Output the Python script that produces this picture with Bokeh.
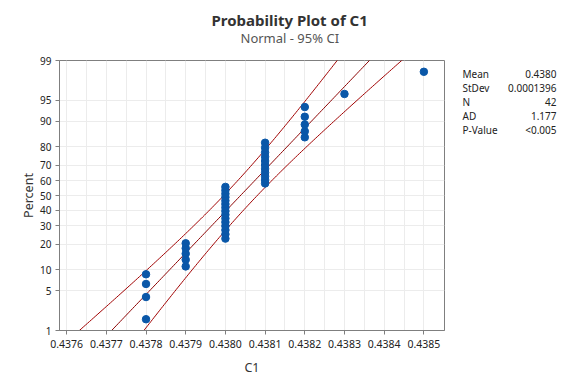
from statistics import NormalDist
import numpy as np
from bokeh.plotting import figure
from bokeh.models import Range1d, FixedTicker, Title, ColumnDataSource
from bokeh.layouts import row
from bokeh.core.properties import value
from bokeh.embed import file_html
from bokeh.resources import INLINE

# ---- data ----
c1_values = [0.4378, 0.4378, 0.4378, 0.4378,
             0.4379, 0.4379, 0.4379, 0.4379, 0.4379,
             0.4380, 0.4380, 0.4380, 0.4380, 0.4380, 0.4380, 0.4380, 0.4380,
             0.4380, 0.4380, 0.4380, 0.4380, 0.4380, 0.4380, 0.4380,
             0.4381, 0.4381, 0.4381, 0.4381, 0.4381, 0.4381, 0.4381, 0.4381,
             0.4381, 0.4381, 0.4381,
             0.4382, 0.4382, 0.4382, 0.4382, 0.4382,
             0.4383,
             0.4385]
percent_values = [1.65, 4.01, 6.37, 8.73, 11.08, 13.44, 15.80, 18.16, 20.52, 22.88,
                  25.24, 27.59, 29.95, 32.31, 34.67, 37.03, 39.39, 41.75, 44.10, 46.46,
                  48.82, 51.18, 53.54, 55.90, 58.25, 60.61, 62.97, 65.33, 67.69, 70.05,
                  72.41, 74.76, 77.12, 79.48, 81.84, 84.20, 86.56, 88.92, 91.27, 93.63,
                  95.99, 98.35]
x_ticks = [0.4376, 0.4377, 0.4378, 0.4379, 0.4380, 0.4381, 0.4382, 0.4383, 0.4384, 0.4385]
x_tick_labels = ["0.4376", "0.4377", "0.4378", "0.4379", "0.4380", "0.4381",
                 "0.4382", "0.4383", "0.4384", "0.4385"]
x_minor = [0.43765, 0.43775, 0.43785, 0.43795, 0.43805, 0.43815, 0.43825, 0.43835, 0.43845]
y_tick_percents = [1, 5, 10, 20, 30, 40, 50, 60, 70, 80, 90, 95, 99]
stat_names = ["Mean", "StDev", "N", "AD", "P-Value"]
stat_values = ["0.4380", "0.0001396", "42", "1.177", "<0.005"]

FONT = "Noto Sans"
nd = NormalDist()
def zq(pct):
    return nd.inv_cdf(pct / 100.0)

# normal fit and 95% confidence band
arr = np.array(c1_values)
mu = arr.mean()
sd = arr.std(ddof=1)
n = len(arr)
zz = np.linspace(-3.2, 3.2, 200)
fit = mu + sd * zz
half = 1.959964 * sd * np.sqrt(1.0 / n + zz ** 2 / (2.0 * n))

W_MAIN, W_STATS, H = 446, 130, 384
LEFT, TOP, BOTTOM = 59, 60, 54
p = figure(width=W_MAIN, height=H, output_backend="svg", toolbar_location=None,
           x_range=Range1d(0.437582, 0.438552), y_range=Range1d(zq(1), zq(99)),
           min_border_left=LEFT, min_border_right=2, min_border_top=TOP, min_border_bottom=BOTTOM)
p.background_fill_color = "white"
p.border_fill_color = "white"
p.outline_line_color = "#7f7f7f"
p.outline_line_width = 1

# titles (stacked outward from the frame: subtitle first, then the main title)
sub = Title(text="Normal - 95% CI", align="left", offset=181,
            text_font=FONT, text_font_size="13px", text_font_style="normal",
            text_color="#555555", standoff=0)
ttl = Title(text="Probability Plot of C1", align="left", offset=152,
            text_font=FONT, text_font_size="15px", text_font_style="bold",
            text_color="#333333", standoff=0)
try:
    sub.standoff = 28
    ttl.standoff = -34
except Exception:
    sub.standoff = 10
    ttl.standoff = 0
p.add_layout(sub, "above")
p.add_layout(ttl, "above")

# axes
p.xaxis.ticker = FixedTicker(ticks=x_ticks, minor_ticks=x_minor)
p.xaxis.major_label_overrides = {t: l for t, l in zip(x_ticks, x_tick_labels)}
ytk = [zq(v) for v in y_tick_percents]
p.yaxis.ticker = FixedTicker(ticks=ytk)
p.yaxis.major_label_overrides = {t: str(v) for t, v in zip(ytk, y_tick_percents)}
for ax in (p.xaxis[0], p.yaxis[0]):
    ax.axis_line_color = "#7f7f7f"
    ax.major_tick_line_color = "#7f7f7f"
    ax.major_tick_out = 4
    ax.major_tick_in = 0
    ax.minor_tick_line_color = None
    ax.major_label_text_font = FONT
    ax.major_label_text_font_size = "10.5px"
    ax.major_label_text_color = "#222222"
    ax.axis_label_text_font = FONT
    ax.axis_label_text_font_size = "12.5px"
    ax.axis_label_text_font_style = "normal"
    ax.axis_label_text_color = "#333333"
p.yaxis.major_label_text_font_size = "10px"
p.xaxis.major_label_standoff = 5
p.yaxis.major_label_standoff = 4
p.xaxis.axis_label = "C1"
p.yaxis.axis_label = "Percent"
p.xaxis.axis_label_standoff = 8
p.yaxis.axis_label_standoff = 0

p.xgrid.grid_line_color = "#ececec"
p.xgrid.minor_grid_line_color = "#ececec"
p.ygrid.grid_line_color = "#ececec"

# fit and CI lines
p.line(fit, zz, line_color="#8b0000", line_width=1)
p.line(fit - half, zz, line_color="#a00000", line_width=1)
p.line(fit + half, zz, line_color="#a00000", line_width=1)

src = ColumnDataSource(dict(x=c1_values, y=[zq(v) for v in percent_values]))
p.scatter("x", "y", source=src, size=7.5, fill_color="#0a57a8", line_color="#0a57a8")

# statistics panel (its ranges are in canvas pixels, matching the plot frame)
s = figure(width=W_STATS, height=H, output_backend="svg", toolbar_location=None,
           x_range=Range1d(0, W_STATS), y_range=Range1d(H - BOTTOM, TOP),
           x_axis_type=None, y_axis_type=None,
           min_border_left=0, min_border_right=0, min_border_top=TOP, min_border_bottom=BOTTOM)
s.outline_line_color = None
s.background_fill_color = "white"
s.border_fill_color = "white"
s.xgrid.grid_line_color = None
s.ygrid.grid_line_color = None
rows_y = [73, 87, 101, 115, 129]
s.text(x=[16] * len(stat_names), y=rows_y, text=stat_names, text_font=value(FONT),
       text_font_size="10px", text_color="#222222", text_align="left", text_baseline="middle")
s.text(x=[110] * len(stat_values), y=rows_y, text=stat_values, text_font=value(FONT),
       text_font_size="10px", text_color="#222222", text_align="right", text_baseline="middle")

layout = row(p, s, spacing=0)
open("out.html", "w").write(file_html(layout, INLINE))
